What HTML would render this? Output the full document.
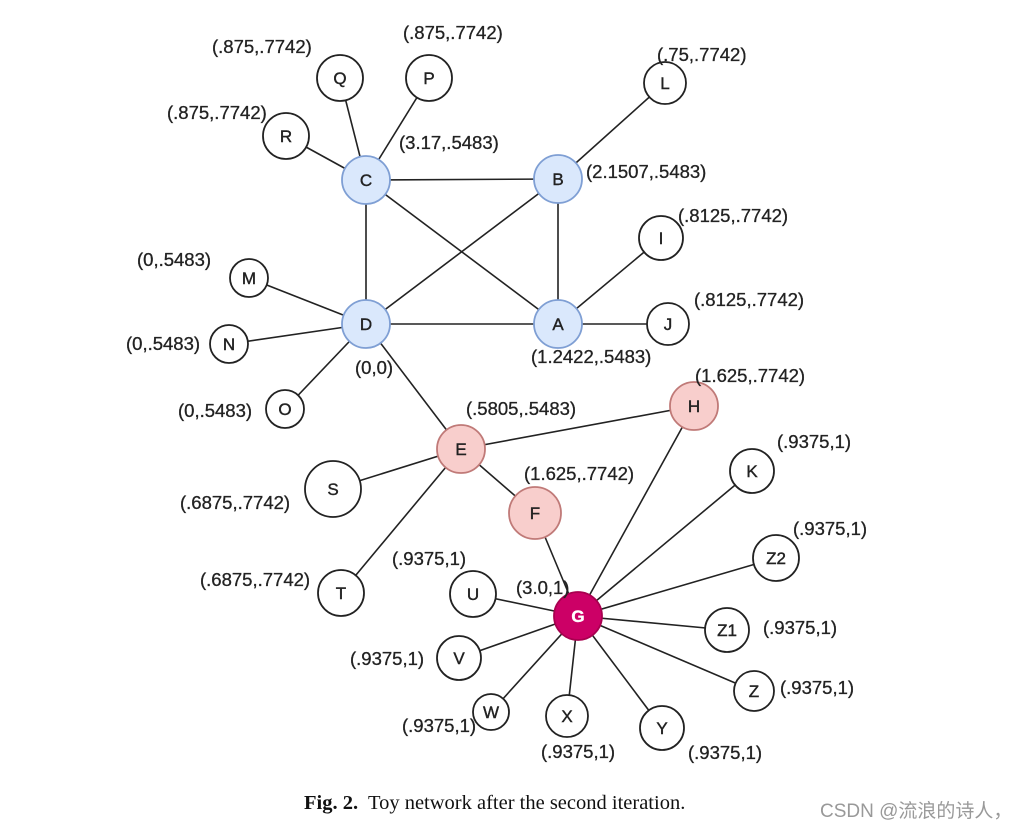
<!DOCTYPE html>
<html><head><meta charset="utf-8">
<style>
html,body{margin:0;padding:0;background:#fff;}
body{width:1021px;height:829px;overflow:hidden;position:relative;}
svg{position:absolute;left:0;top:0;}
.cap{position:absolute;left:304px;top:792px;font-family:"Liberation Serif",serif;font-size:20.5px;color:#111;white-space:nowrap;}
.wm{position:absolute;left:820px;top:796px;font-family:"Liberation Sans","Noto Sans CJK SC",sans-serif;font-size:19px;color:#999;white-space:nowrap;}
</style></head>
<body>
<svg id="net" width="1021" height="829"></svg>
<div class="cap"><b>Fig. 2.</b>&nbsp; Toy network after the second iteration.</div>
<div class="wm">CSDN @流浪的诗人，</div>
<script>
const nodeIds = ["Q","P","R","C","B","L","I","M","D","A","J","N","O","H","E","S","F","K","Z2","T","U","G","Z1","V","Z","W","X","Y"];
const nodeX = [340,429,286,366,558,665,661,249,366,558,668,229,285,694,461,333,535,752,776,341,473,578,727,459,754,491,567,662];
const nodeY = [78,78,136,180,179,83,238,278,324,324,324,344,409,406,449,489,513,471,558,593,594,616,630,658,691,712,716,728];
const nodeR = [23,23,23,24,24,21,22,19,24,24,21,19,19,24,24,28,26,22,23,23,23,24,22,22,20,18,21,22];
const nodeGroup = ["w","w","w","b","b","w","w","w","b","b","w","w","w","p","p","w","p","w","w","w","w","g","w","w","w","w","w","w"];
const edges = [["C","Q"],["C","P"],["C","R"],["C","B"],["C","D"],["C","A"],["B","L"],["B","A"],["B","D"],["A","I"],["A","J"],["A","D"],["D","M"],["D","N"],["D","O"],["D","E"],["E","H"],["E","S"],["E","T"],["E","F"],["F","G"],["H","G"],["G","K"],["G","Z2"],["G","Z1"],["G","Z"],["G","Y"],["G","X"],["G","W"],["G","V"],["G","U"]];
const labelText = ["(.875,.7742)","(.875,.7742)","(.875,.7742)","(3.17,.5483)","(.75,.7742)","(2.1507,.5483)","(.8125,.7742)","(0,.5483)","(.8125,.7742)","(0,.5483)","(1.2422,.5483)","(0,0)","(1.625,.7742)","(0,.5483)","(.5805,.5483)","(.9375,1)","(1.625,.7742)","(.6875,.7742)","(.9375,1)","(.9375,1)","(.6875,.7742)","(3.0,1)","(.9375,1)","(.9375,1)","(.9375,1)","(.9375,1)","(.9375,1)","(.9375,1)"];
const labelX = [212,403,167,399,657,586,678,137,694,126,531,355,695,178,466,777,524,180,793,392,200,516,763,350,780,402,541,688];
const labelY = [47,33,113,143,55,172,216,260,300,344,357,368,376,411,409,442,474,503,529,559,580,588,628,659,688,726,752,753];

const svg = document.getElementById('net');
const NS = "http://www.w3.org/2000/svg";
const styles = {w:["#fff","#222","#222"],b:["#dae8fc","#7f9fd4","#222"],p:["#f8cecc","#c07a78","#222"],g:["#cc0066","#a8004f","#fff"]};
function idx(id){return nodeIds.indexOf(id);}
edges.forEach(e=>{
  const a=idx(e[0]), b=idx(e[1]);
  const l=document.createElementNS(NS,'line');
  l.setAttribute('x1',nodeX[a]);l.setAttribute('y1',nodeY[a]);
  l.setAttribute('x2',nodeX[b]);l.setAttribute('y2',nodeY[b]);
  l.setAttribute('stroke','#222');l.setAttribute('stroke-width','1.6');
  
  
  svg.appendChild(l);
});
nodeIds.forEach((id,i)=>{
  const s=styles[nodeGroup[i]];
  const c=document.createElementNS(NS,'circle');
  c.setAttribute('cx',nodeX[i]);c.setAttribute('cy',nodeY[i]);c.setAttribute('r',nodeR[i]);
  c.setAttribute('fill',s[0]);c.setAttribute('stroke',s[1]);c.setAttribute('stroke-width','1.8');
  
  
  svg.appendChild(c);
  const t=document.createElementNS(NS,'text');
  t.setAttribute('x',nodeX[i]);t.setAttribute('y',nodeY[i]+6);
  t.setAttribute('text-anchor','middle');t.setAttribute('font-family','Liberation Sans, sans-serif');
  t.setAttribute('font-size','17');t.setAttribute('fill',s[2]);
  t.setAttribute('stroke',s[2]);t.setAttribute('stroke-width','0.4');
  if(id==='G')t.setAttribute('font-weight','bold');
  t.textContent=id;
  
  
  svg.appendChild(t);
});
labelText.forEach((txt,i)=>{
  const t=document.createElementNS(NS,'text');
  t.setAttribute('x',labelX[i]);t.setAttribute('y',labelY[i]+6);
  t.setAttribute('font-family','Liberation Sans, sans-serif');
  t.setAttribute('font-size','18.5');t.setAttribute('fill','#222');
  t.setAttribute('stroke','#222');t.setAttribute('stroke-width','0.3');
  t.textContent=txt;
  
  
  svg.appendChild(t);
});
</script>
</body></html>
